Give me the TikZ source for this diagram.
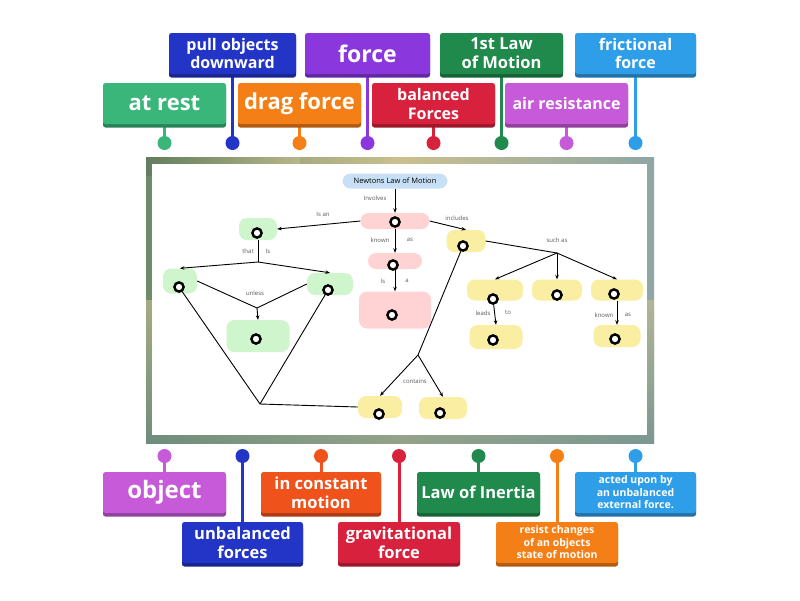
\documentclass[tikz,border=0pt]{standalone}
\usepackage{fontspec}
\setmainfont{Open Sans}
\usetikzlibrary{arrows.meta}
\definecolor{cTeal}{HTML}{3BB67A}
\definecolor{cBlue}{HTML}{2335C6}
\definecolor{cOrange}{HTML}{F57F17}
\definecolor{cPurple}{HTML}{8A38DE}
\definecolor{cRed}{HTML}{D8213C}
\definecolor{cGreen}{HTML}{1F8A4B}
\definecolor{cOrchid}{HTML}{C65AD8}
\definecolor{cSky}{HTML}{2F9EE8}
\definecolor{cRedOr}{HTML}{F0521C}
\definecolor{pGreen}{HTML}{CFF5CD}
\definecolor{pPink}{HTML}{FFD3D3}
\definecolor{pYellow}{HTML}{F9EEA2}
\definecolor{pBlue}{HTML}{C8E0F5}
\definecolor{frA}{HTML}{6E8C6A}
\definecolor{frB}{HTML}{C9C08F}
\definecolor{frC}{HTML}{8FA6A4}
\definecolor{frD}{HTML}{6D8E86}
\tikzset{
  labbox/.style={rectangle, rounded corners=2.5pt, minimum width=123pt, minimum height=41pt, inner sep=1pt, text=white, align=center},
  labdot/.style={circle, minimum size=14pt, inner sep=0pt},
  stem/.style={line width=3pt},
  pill/.style={rectangle, rounded corners=8pt, inner sep=0pt},
  ring/.style={circle, draw=black, line width=2.3pt, fill=white, minimum size=9pt, inner sep=0pt},
  link/.style={-{Stealth[length=4.5pt,width=3.5pt]}, line width=0.9pt, black},
  plain/.style={line width=0.9pt, black},
  lt/.style={font=\fontsize{6}{7}\selectfont, text=black!65, inner sep=0pt}
}
\newcommand\mylab[9]{%
  \draw[stem, #5] (#2,#3) -- (#2,#8);
  \node[labdot, fill=#5] (#1d) at (#2,#8) {};
  \node[labbox, fill=#5!72!black, minimum width=#4] (#1s) at (#2,#3+3.5) {};
  \node[labbox, fill=#5, minimum width=#4, font={\bfseries\fontsize{#6}{#9}\selectfont}] (#1) at (#2,#3) {#7};
}
\begin{document}
\begin{tikzpicture}[x=1pt,y=-1pt]
\useasboundingbox (0,0) rectangle (800,600);
\fill[white] (0,0) rectangle (800,600);
% picture frame
\shade[left color=frA, right color=frC, middle color=frB] (146,157) rectangle (654,443);
\shade[top color=frA!0!frB, bottom color=frD, opacity=0.6] (146,300) rectangle (654,443);
\shade[left color=frA!80!black, right color=frB, opacity=0.5] (146,157) rectangle (300,175);
\fill[white] (152,164) rectangle (647,435);

% ---- labels top
\mylab{po}{232.5}{53.5}{127pt}{cBlue}{16}{pull objects\\downward}{143}{18}
\mylab{fo}{367.5}{53.5}{125pt}{cPurple}{23}{force}{143}{26}
\mylab{fl}{501.5}{53.5}{123pt}{cGreen}{16.5}{1st Law\\of Motion}{143}{19}
\mylab{ff}{635.5}{53.5}{121pt}{cSky}{16}{frictional\\force}{143}{18}
\mylab{ar}{164.5}{103.5}{123pt}{cTeal}{22}{at rest}{143}{26}
\mylab{df}{299.5}{103.5}{123pt}{cOrange}{22}{drag force}{143}{26}
\mylab{bf}{433.5}{103.5}{123pt}{cRed}{16}{balanced\\Forces}{143}{19}
\mylab{ai}{566.5}{103.5}{123pt}{cOrchid}{16}{air resistance}{143}{19}
% ---- labels bottom
\mylab{ob}{164.5}{492.5}{123pt}{cOrchid}{24}{object}{456}{26}
\mylab{ic}{321}{492.5}{120pt}{cRedOr}{16.5}{in constant\\motion}{456}{19}
\mylab{li}{478.5}{492.5}{123pt}{cGreen}{16.5}{Law of Inertia}{456}{19}
\mylab{ac}{635.5}{492.5}{121pt}{cSky}{10.5}{acted upon by\\an unbalanced\\external force.}{456}{12.5}
\mylab{ub}{242.5}{542.5}{121pt}{cBlue}{16.5}{unbalanced\\forces}{456}{19}
\mylab{gf}{399}{542.5}{122pt}{cRed}{16.5}{gravitational\\force}{456}{19}
\mylab{rc}{557}{542.5}{122pt}{cOrange}{10.5}{resist changes\\of an objects\\state of motion}{456}{12.5}

% ---- concept map
\node[pill, fill=pBlue, minimum width=105pt, minimum height=15pt, font=\fontsize{7.5}{9}\selectfont] (title) at (395,181) {Newtons Law of Motion};
\node[pill, fill=pPink, minimum width=69pt, minimum height=16pt] (r1) at (395,221) {};
\node[pill, fill=pPink, minimum width=54pt, minimum height=16pt] (r2) at (395,261) {};
\node[pill, fill=pPink, minimum width=72pt, minimum height=37pt] (r3) at (395,310) {};
\node[pill, fill=pGreen, minimum width=38pt, minimum height=22pt] (gA) at (258,229) {};
\node[pill, fill=pGreen, minimum width=34pt, minimum height=25pt] (gB) at (180,281) {};
\node[pill, fill=pGreen, minimum width=46pt, minimum height=22pt] (gC) at (330,284) {};
\node[pill, fill=pGreen, minimum width=63pt, minimum height=32pt] (gD) at (258,336) {};
\node[pill, fill=pYellow, minimum width=39pt, minimum height=22pt] (y0) at (466,241) {};
\node[pill, fill=pYellow, minimum width=56pt, minimum height=21pt] (y2) at (495,290) {};
\node[pill, fill=pYellow, minimum width=50pt, minimum height=21pt] (y3) at (557,290) {};
\node[pill, fill=pYellow, minimum width=52pt, minimum height=21pt] (y4) at (617,290) {};
\node[pill, fill=pYellow, minimum width=53pt, minimum height=24pt] (y5) at (496,337) {};
\node[pill, fill=pYellow, minimum width=47pt, minimum height=22pt] (y6) at (617,336) {};
\node[pill, fill=pYellow, minimum width=44pt, minimum height=22pt] (y1) at (380,407) {};
\node[pill, fill=pYellow, minimum width=48pt, minimum height=22pt] (y7) at (443,408) {};

% rings
\node[ring] (kr1) at (395,222) {};
\node[ring] (kr2) at (393,265) {};
\node[ring] (kr3) at (392,315) {};
\node[ring] (kgA) at (257,233) {};
\node[ring] (kgB) at (179,287) {};
\node[ring] (kgC) at (328,290) {};
\node[ring] (kgD) at (256,339) {};
\node[ring] (ky0) at (463,246) {};
\node[ring] (ky2) at (493,299) {};
\node[ring] (ky3) at (557,295) {};
\node[ring] (ky4) at (614,294) {};
\node[ring] (ky5) at (493,340) {};
\node[ring] (ky6) at (615,339) {};
\node[ring] (ky1) at (379,414) {};
\node[ring] (ky7) at (440,413) {};

% junctions
\coordinate (j1) at (258,262);
\coordinate (j2) at (257,308);
\coordinate (j3) at (260,404);
\coordinate (j4) at (557,253);
\coordinate (j5) at (418,355);

% connectors
\draw[link] (title) -- (r1.north);
\draw[link] (r1.west) -- (gA.east);
\draw[plain] (gA.south) -- (j1);
\draw[link] (j1) -- (gB.north);
\draw[link] (j1) -- (gC.north);
\draw[plain] (gB.east) -- (j2);
\draw[plain] (gC.west) -- (j2);
\draw[link] (j2) -- (gD.north);
\draw[plain] (kgB) -- (j3);
\draw[plain] (kgC) -- (j3);
\draw[plain] (j3) -- (y1.west);
\draw[link] (r1.south) -- (r2.north);
\draw[link] (r2.south) -- (r3.north);
\draw[link] (r1.east) -- (y0.north);
\draw[plain] (y0.east) -- (j4);
\draw[link] (j4) -- (y2.north);
\draw[link] (j4) -- (y3.north);
\draw[link] (j4) -- (y4.north);
\draw[link] (ky2) -- (y5.north);
\draw[link] (y4.south) -- (y6.north);
\draw[plain] (ky0) -- (j5);
\draw[link] (j5) -- (y1.north);
\draw[link] (j5) -- (y7.north);

% re-draw rings on top of lines
\foreach \r in {kr1,kr2,kr3,kgA,kgB,kgC,kgD,ky0,ky2,ky3,ky4,ky5,ky6,ky1,ky7}
  \draw[black, line width=2.3pt, fill=white] (\r) circle (4.5pt);

% link labels
\node[lt] (t1) at (375,198) {Involves};
\node[lt] (t2) at (323,214) {Is an};
\node[lt] (t3) at (248,251) {that};
\node[lt] (t4) at (268,251) {Is};
\node[lt] (t5) at (255,293) {unless};
\node[lt] (t6) at (380,240) {known};
\node[lt] (t7) at (410,240) {as};
\node[lt] (t8) at (383,281) {Is};
\node[lt] (t9) at (407,281) {a};
\node[lt] (t10) at (457,218) {includes};
\node[lt] (t11) at (557,240) {such as};
\node[lt] (t12) at (483,313) {leads};
\node[lt] (t13) at (508,313) {to};
\node[lt] (t14) at (604,315) {known};
\node[lt] (t15) at (628,315) {as};
\node[lt] (t16) at (415,381) {contains};
\end{tikzpicture}
\end{document}
